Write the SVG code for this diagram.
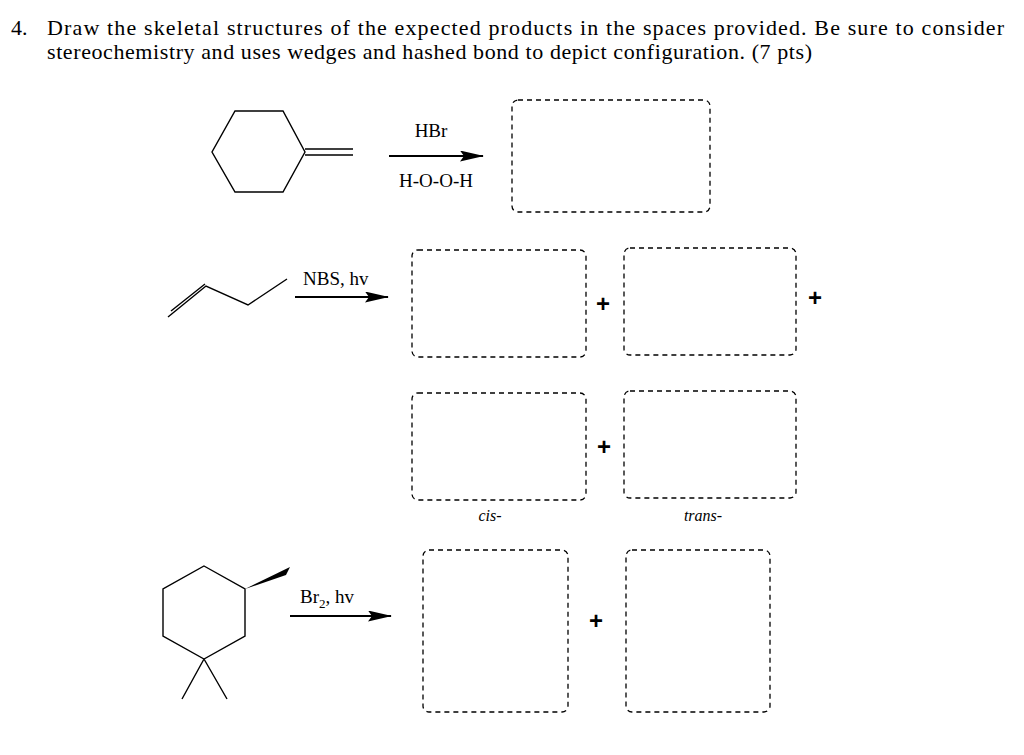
<svg xmlns="http://www.w3.org/2000/svg" width="1024" height="755" viewBox="0 0 1024 755">
<style>
text{font-family:"Liberation Serif","Times New Roman",serif;fill:#000}
.t{font-size:22px}
.r{font-size:19px}
.b{fill:none;stroke:#000;stroke-width:1.3;stroke-dasharray:5,4}
.m{fill:none;stroke:#000;stroke-width:1.4}
.a{stroke:#000;stroke-width:1.8}
.p{font-size:24px;font-weight:bold;font-family:"Liberation Sans",Arial,sans-serif}
</style>
<defs><marker id="ah" markerWidth="24" markerHeight="11" refX="23" refY="5.5" orient="auto" markerUnits="userSpaceOnUse"><path d="M0,0 L24,5.5 L0,11 L4,5.5 Z" fill="#000"/></marker></defs>
<rect width="1024" height="755" fill="#fff"/>
<text class="t" x="11" y="35">4.</text>
<text class="t" x="47" y="35" textLength="957" lengthAdjust="spacing">Draw the skeletal structures of the expected products in the spaces provided.  Be sure to consider</text>
<text class="t" x="47" y="59" textLength="765" lengthAdjust="spacing">stereochemistry and uses wedges and hashed bond to depict configuration.  (7 pts)</text>
<g id="mol1"><path class="m" d="M235,111 L283,111 L305,152 L283,192 L235,192 L212,152 Z M305,149 L353,149 M305,155 L353,155"/></g>
<g id="mol2"><path class="m" d="M168,317 L206,286 L248,305 L287,279 M171,311 L205,284"/></g>
<g id="mol3"><path class="m" d="M204,566 L245,589 L245,636 L204,659 L163,636 L163,589 Z M204,659 L182,699 M204,659 L227,699"/><path d="M245,589 L290,567 L286,575 Z" fill="#000"/></g>
<g id="connectors">
<line class="a" x1="389" y1="156" x2="483" y2="156" marker-end="url(#ah)"/>
<line class="a" x1="295" y1="297" x2="388" y2="297" marker-end="url(#ah)"/>
<line class="a" x1="290" y1="616" x2="391" y2="616" marker-end="url(#ah)"/>
</g>
<text class="r" x="431" y="137" text-anchor="middle">HBr</text>
<text class="r" x="436" y="187" text-anchor="middle">H-O-O-H</text>
<text class="r" x="303" y="285">NBS, hv</text>
<text class="r" x="300" y="603">Br<tspan font-size="13" dy="5">2</tspan><tspan dy="-5">, hv</tspan></text>
<g id="boxes">
<rect class="b" x="512" y="100" width="198" height="112" rx="6"/>
<rect class="b" x="412" y="250" width="174" height="107" rx="6"/>
<rect class="b" x="624" y="248" width="172" height="107" rx="6"/>
<rect class="b" x="412" y="393" width="174" height="107" rx="6"/>
<rect class="b" x="624" y="391" width="172" height="107" rx="6"/>
<rect class="b" x="423" y="550" width="145" height="162" rx="6"/>
<rect class="b" x="626" y="550" width="144" height="162" rx="6"/>
</g>
<text class="p" x="603" y="312" text-anchor="middle">+</text>
<text class="p" x="815" y="306" text-anchor="middle">+</text>
<text class="p" x="604" y="455" text-anchor="middle">+</text>
<text class="p" x="596" y="629" text-anchor="middle">+</text>
<text x="490" y="521" font-size="16" font-style="italic" text-anchor="middle">cis-</text>
<text x="703" y="521" font-size="16" font-style="italic" text-anchor="middle">trans-</text>
</svg>
